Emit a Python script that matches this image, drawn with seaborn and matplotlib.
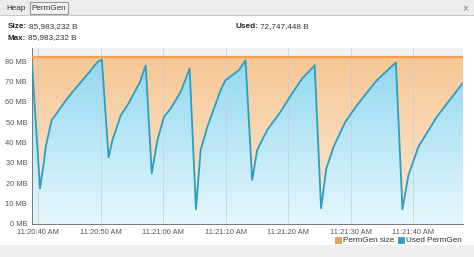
import numpy as np
import pandas as pd
import matplotlib
matplotlib.use("Agg")
import matplotlib.pyplot as plt
import seaborn as sns
from matplotlib.patches import Rectangle, PathPatch
from matplotlib.colors import LinearSegmentedColormap

# ---- data ----
seconds = [-0.96, 0.32, 0.91, 1.28, 2.18, 3.14, 4.47, 5.53, 7.13, 8.45, 9.52, 10.2,
           11.28, 11.91, 13.24, 14.31, 16.32, 17.22,
           18.18, 19.09, 20.14, 21.21, 22.81, 24.24,
           25.25, 26.0, 27.07, 29.19, 29.98, 32.11, 33.17,
           34.24, 35.04, 36.63, 38.76, 40.62, 42.22, 44.23,
           45.25, 46.09, 47.26, 49.12, 50.99, 54.18, 57.21,
           58.26, 59.22, 60.81, 63.75, 67.94]
used_mb = [78.8, 17.5, 29.7, 38.7, 51.0, 55.0, 60.8, 64.9, 70.6, 75.5, 79.6, 80.7,
           32.7, 41.2, 53.4, 58.3, 69.8, 77.9,
           24.8, 41.2, 52.6, 56.7, 64.9, 76.3,
           7.2, 36.3, 47.7, 65.7, 70.6, 75.5, 80.4,
           21.6, 36.3, 46.1, 55.0, 64.1, 71.4, 77.9,
           7.7, 27.3, 37.9, 50.1, 58.3, 70.6, 79.3,
           7.2, 24.0, 37.9, 52.6, 69.3]
permgen_size_mb = 82.0
tick_seconds = [0, 10, 20, 30, 40, 50, 60]
tick_labels = ["11:20:40 AM", "11:20:50 AM", "11:21:00 AM", "11:21:10 AM",
               "11:21:20 AM", "11:21:30 AM", "11:21:40 AM"]
ytick_vals = [0, 10, 20, 30, 40, 50, 60, 70, 80]
ytick_labels = ["0 MB", "10 MB", "20 MB", "30 MB", "40 MB", "50 MB", "60 MB", "70 MB", "80 MB"]
size_text = "85,983,232 B"
max_text = "85,983,232 B"
used_text = "72,747,448 B"
legend_labels = ["PermGen size", "Used PermGen"]

df = pd.DataFrame({"t": seconds, "used": used_mb})
df["size"] = permgen_size_mb

sns.set_theme(style="white")
plt.rcParams["font.family"] = ["Liberation Sans", "DejaVu Sans"]

W, H = 474, 257
fig = plt.figure(figsize=(W / 100, H / 100), dpi=100)
fig.patch.set_facecolor("white")
renderer = fig.canvas.get_renderer()

def fx(px): return px / W
def fy(py): return 1 - py / H

def text_after(t, gap_px, **kw):
    bb = t.get_window_extent(renderer=renderer)
    return fig.text((bb.x1 + gap_px) / W, t.get_position()[1], **kw)

FS = 5.9
# tab bar
fig.patches.append(Rectangle((0, fy(15)), 1, 15 / H, transform=fig.transFigure,
                             facecolor="#ececec", edgecolor="none", zorder=0))
fig.patches.append(Rectangle((0, fy(15.5)), 1, 0.8 / H, transform=fig.transFigure,
                             facecolor="#c8c8c8", edgecolor="none", zorder=1))
fig.patches.append(Rectangle((fx(30), fy(14)), 38 / W, 12 / H, transform=fig.transFigure,
                             facecolor="#f4f4f4", edgecolor="#9a9a9a", lw=0.8, zorder=2))
fig.text(fx(6), fy(8), "Heap", fontsize=FS, color="#333333", va="center", ha="left")
fig.text(fx(49), fy(8), "PermGen", fontsize=FS, color="#333333", va="center", ha="center", zorder=3)
fig.text(fx(465), fy(8), "\u00d7", fontsize=7, color="#777777", va="center", ha="center")

# bottom bar
fig.patches.append(Rectangle((0, 0), 1, 12 / H, transform=fig.transFigure,
                             facecolor="#efefef", edgecolor="none", zorder=0))

# info texts
t1 = fig.text(fx(8), fy(27), "Size:", fontsize=FS, fontweight="bold", color="#222222", va="center")
text_after(t1, 2, s=size_text, fontsize=FS, color="#333333", va="center")
t2 = fig.text(fx(8), fy(38), "Max:", fontsize=FS, fontweight="bold", color="#222222", va="center")
text_after(t2, 2, s=max_text, fontsize=FS, color="#333333", va="center")
t3 = fig.text(fx(235), fy(27), "Used:", fontsize=FS, fontweight="bold", color="#222222", va="center")
text_after(t3, 2, s=used_text, fontsize=FS, color="#333333", va="center")

# axes
ax = fig.add_axes([fx(32), fy(224), (463 - 32) / W, (224 - 48) / H])
ax.set_facecolor("#f1f1f1")
x0, x1 = seconds[0], seconds[-1]
ymax = 86.4

grad = np.linspace(0, 1, 256).reshape(-1, 1)
ocmap = LinearSegmentedColormap.from_list("o", ["#fcebd8", "#f6c794"])
bcmap = LinearSegmentedColormap.from_list("b", ["#e6f7fd", "#90d7f0"])

orange_poly = ax.fill_between(df["t"], 0, df["size"], color="none", lw=0)
im1 = ax.imshow(grad, extent=[x0, x1, 0, permgen_size_mb], origin="lower", aspect="auto",
                cmap=ocmap, zorder=1)
im1.set_clip_path(PathPatch(orange_poly.get_paths()[0], transform=ax.transData))

blue_poly = ax.fill_between(df["t"], 0, df["used"], color="none", lw=0)
im2 = ax.imshow(grad, extent=[x0, x1, 0, permgen_size_mb], origin="lower", aspect="auto",
                cmap=bcmap, zorder=2)
im2.set_clip_path(PathPatch(blue_poly.get_paths()[0], transform=ax.transData))

for t in tick_seconds:
    ax.axvline(t, color="#c9ccd0", lw=0.6, zorder=3, alpha=0.8)

sns.lineplot(data=df, x="t", y="size", ax=ax, color="#f0a052", lw=1.6, zorder=5)
sns.lineplot(data=df, x="t", y="used", ax=ax, color="#2a9fc2", lw=1.3, zorder=6)

ax.set_xlim(x0, x1)
ax.set_ylim(0, ymax)
ax.set_xticks(tick_seconds)
ax.set_xticklabels(tick_labels)
ax.set_yticks(ytick_vals)
ax.set_yticklabels(ytick_labels)
ax.tick_params(axis="both", labelsize=5.4, colors="#555555", length=2.5, width=0.6, pad=1,
               direction="out")
ax.set_xlabel("")
ax.set_ylabel("")
for s in ["top", "right"]:
    ax.spines[s].set_visible(False)
for s in ["left", "bottom"]:
    ax.spines[s].set_color("#777777")
    ax.spines[s].set_linewidth(0.7)

# legend (right-aligned to x=462)
l2 = fig.text(fx(462), fy(240), legend_labels[1], fontsize=FS, color="#333333",
              va="center", ha="right")
bb2 = l2.get_window_extent(renderer=renderer)
bsq = bb2.x0 - 8
fig.patches.append(Rectangle((bsq / W, fy(243)), 6 / W, 6 / H, transform=fig.transFigure,
                             facecolor="#2a9fc2", edgecolor="#1a7090", lw=0.4))
l1 = fig.text((bsq - 4) / W, fy(240), legend_labels[0], fontsize=FS, color="#333333",
              va="center", ha="right")
bb1 = l1.get_window_extent(renderer=renderer)
osq = bb1.x0 - 8
fig.patches.append(Rectangle((osq / W, fy(243)), 6 / W, 6 / H, transform=fig.transFigure,
                             facecolor="#f0a052", edgecolor="#c07a30", lw=0.4))

fig.savefig("out.png", dpi=100)
